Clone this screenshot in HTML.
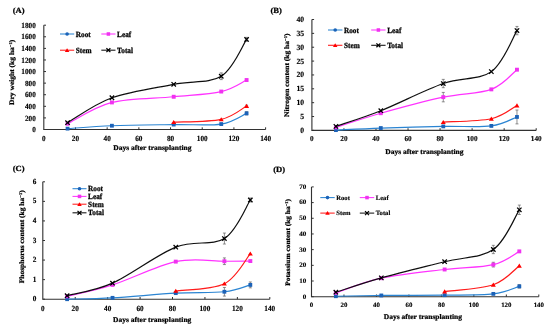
<!DOCTYPE html>
<html><head><meta charset="utf-8"><style>
html,body{margin:0;padding:0;background:#fff;}
body{width:550px;height:328px;overflow:hidden;}
svg{display:block;will-change:transform;font-family:"Liberation Serif", serif;font-weight:bold;fill:#000;}
text{text-rendering:geometricPrecision;stroke:#000;}

</style></head><body>
<svg width="550" height="328" viewBox="0 0 550 328">
<defs><filter id="bl" x="0" y="0" width="550" height="328" filterUnits="userSpaceOnUse"><feGaussianBlur stdDeviation="0.3"/></filter></defs>
<rect width="550" height="328" fill="#fff"/>
<g filter="url(#bl)">
<g><path d="M43.8,25.2 V129.5 H265.6" stroke="#303030" stroke-width="1.1" fill="none"/>
<path d="M43.8,129.5 h2.2" stroke="#303030" stroke-width="1"/>
<text transform="translate(35.8,129.5) scale(1.04,1.12) translate(0,2.36)" font-size="7" text-anchor="end" stroke-width="0.12">0</text>
<path d="M43.8,117.91 h2.2" stroke="#303030" stroke-width="1"/>
<text transform="translate(35.8,117.91) scale(1.04,1.12) translate(0,2.36)" font-size="7" text-anchor="end" stroke-width="0.12">200</text>
<path d="M43.8,106.32 h2.2" stroke="#303030" stroke-width="1"/>
<text transform="translate(35.8,106.32) scale(1.04,1.12) translate(0,2.36)" font-size="7" text-anchor="end" stroke-width="0.12">400</text>
<path d="M43.8,94.73 h2.2" stroke="#303030" stroke-width="1"/>
<text transform="translate(35.8,94.73) scale(1.04,1.12) translate(0,2.36)" font-size="7" text-anchor="end" stroke-width="0.12">600</text>
<path d="M43.8,83.14 h2.2" stroke="#303030" stroke-width="1"/>
<text transform="translate(35.8,83.14) scale(1.04,1.12) translate(0,2.36)" font-size="7" text-anchor="end" stroke-width="0.12">800</text>
<path d="M43.8,71.56 h2.2" stroke="#303030" stroke-width="1"/>
<text transform="translate(35.8,71.56) scale(1.04,1.12) translate(0,2.36)" font-size="7" text-anchor="end" stroke-width="0.12">1000</text>
<path d="M43.8,59.97 h2.2" stroke="#303030" stroke-width="1"/>
<text transform="translate(35.8,59.97) scale(1.04,1.12) translate(0,2.36)" font-size="7" text-anchor="end" stroke-width="0.12">1200</text>
<path d="M43.8,48.38 h2.2" stroke="#303030" stroke-width="1"/>
<text transform="translate(35.8,48.38) scale(1.04,1.12) translate(0,2.36)" font-size="7" text-anchor="end" stroke-width="0.12">1400</text>
<path d="M43.8,36.79 h2.2" stroke="#303030" stroke-width="1"/>
<text transform="translate(35.8,36.79) scale(1.04,1.12) translate(0,2.36)" font-size="7" text-anchor="end" stroke-width="0.12">1600</text>
<path d="M43.8,25.2 h2.2" stroke="#303030" stroke-width="1"/>
<text transform="translate(35.8,25.2) scale(1.04,1.12) translate(0,2.36)" font-size="7" text-anchor="end" stroke-width="0.12">1800</text>
<text transform="translate(43.8,138.4) scale(1.04,1.12) translate(0,2.36)" font-size="7" text-anchor="middle" stroke-width="0.12">0</text>
<path d="M75.49,129.5 v-2.2" stroke="#303030" stroke-width="1"/>
<text transform="translate(75.49,138.4) scale(1.04,1.12) translate(0,2.36)" font-size="7" text-anchor="middle" stroke-width="0.12">20</text>
<path d="M107.17,129.5 v-2.2" stroke="#303030" stroke-width="1"/>
<text transform="translate(107.17,138.4) scale(1.04,1.12) translate(0,2.36)" font-size="7" text-anchor="middle" stroke-width="0.12">40</text>
<path d="M138.86,129.5 v-2.2" stroke="#303030" stroke-width="1"/>
<text transform="translate(138.86,138.4) scale(1.04,1.12) translate(0,2.36)" font-size="7" text-anchor="middle" stroke-width="0.12">60</text>
<path d="M170.54,129.5 v-2.2" stroke="#303030" stroke-width="1"/>
<text transform="translate(170.54,138.4) scale(1.04,1.12) translate(0,2.36)" font-size="7" text-anchor="middle" stroke-width="0.12">80</text>
<path d="M202.23,129.5 v-2.2" stroke="#303030" stroke-width="1"/>
<text transform="translate(202.23,138.4) scale(1.04,1.12) translate(0,2.36)" font-size="7" text-anchor="middle" stroke-width="0.12">100</text>
<path d="M233.91,129.5 v-2.2" stroke="#303030" stroke-width="1"/>
<text transform="translate(233.91,138.4) scale(1.04,1.12) translate(0,2.36)" font-size="7" text-anchor="middle" stroke-width="0.12">120</text>
<path d="M265.6,129.5 v-2.2" stroke="#303030" stroke-width="1"/>
<text transform="translate(265.6,138.4) scale(1.04,1.12) translate(0,2.36)" font-size="7" text-anchor="middle" stroke-width="0.12">140</text>
<text transform="translate(152.4,147.2) scale(1,0.95) translate(0,2.53)" font-size="7.5" text-anchor="middle" stroke-width="0.26">Days after transplanting</text>
<text transform="translate(11.2,72.3) rotate(-90) scale(1,0.92) translate(0,2.53)" font-size="7.5" text-anchor="middle" stroke-width="0.26">Dry weight (kg ha<tspan font-size="4.65" dy="-2.2">−1</tspan><tspan dy="2.2">)</tspan></text>
<text transform="translate(12.7,10.7) scale(1,0.92) translate(0,2.9)" font-size="8.6" text-anchor="start" stroke-width="0.26">(A)</text>
<path d="M246.59,111.71 V114.96 M245.09,111.71 h3 M245.09,114.96 h3" stroke="#6a6a6a" stroke-width="0.75" fill="none"/>
<path d="M67.56,128.63 C74.96,128.15 94.23,126.41 111.92,125.73 C129.62,125.06 155.49,124.85 173.71,124.57 C191.93,124.29 209.09,125.93 221.24,124.05 C233.39,122.18 242.36,115.12 246.59,113.33" stroke="#2a84d2" stroke-width="1.2" fill="none"/>
<rect x="65.66" y="126.73" width="3.8" height="3.8" fill="#1a62b8"/>
<rect x="110.02" y="123.83" width="3.8" height="3.8" fill="#1a62b8"/>
<rect x="171.81" y="122.67" width="3.8" height="3.8" fill="#1a62b8"/>
<rect x="219.34" y="122.15" width="3.8" height="3.8" fill="#1a62b8"/>
<rect x="244.69" y="111.43" width="3.8" height="3.8" fill="#1a62b8"/>
<path d="M67.56,123.71 C74.96,120.16 94.23,106.93 111.92,102.44 C129.62,97.95 155.49,98.58 173.71,96.76 C191.93,94.95 209.09,94.34 221.24,91.55 C233.39,88.76 242.36,81.94 246.59,80.02" stroke="#ff33ff" stroke-width="1.2" fill="none"/>
<rect x="65.61" y="121.76" width="3.9" height="3.9" fill="#f030f0"/>
<rect x="109.97" y="100.49" width="3.9" height="3.9" fill="#f030f0"/>
<rect x="171.76" y="94.81" width="3.9" height="3.9" fill="#f030f0"/>
<rect x="219.29" y="89.6" width="3.9" height="3.9" fill="#f030f0"/>
<rect x="244.64" y="78.07" width="3.9" height="3.9" fill="#f030f0"/>
<path d="M246.59,105.16 V106.9 M245.09,105.16 h3 M245.09,106.9 h3" stroke="#6a6a6a" stroke-width="0.75" fill="none"/>
<path d="M173.71,122.2 C181.63,121.73 209.09,122.05 221.24,119.36 C233.39,116.67 242.36,108.25 246.59,106.03" stroke="#ff1a1a" stroke-width="1.2" fill="none"/>
<path d="M173.71,120 L176.21,124.07 L171.21,124.07 Z" fill="#ff0000"/>
<path d="M221.24,117.16 L223.74,121.23 L218.74,121.23 Z" fill="#ff0000"/>
<path d="M246.59,103.83 L249.09,107.9 L244.09,107.9 Z" fill="#ff0000"/>
<path d="M221.24,72.89 V79.61 M219.74,72.89 h3 M219.74,79.61 h3" stroke="#6a6a6a" stroke-width="0.75" fill="none"/>
<path d="M246.59,37.37 V41.42 M245.09,37.37 h3 M245.09,41.42 h3" stroke="#6a6a6a" stroke-width="0.75" fill="none"/>
<path d="M67.56,122.66 C74.96,118.51 94.23,104.14 111.92,97.75 C129.62,91.35 155.49,87.89 173.71,84.3 C191.93,80.72 209.09,83.73 221.24,76.25 C233.39,68.76 242.36,45.54 246.59,39.4" stroke="#111111" stroke-width="1.2" fill="none"/>
<path d="M65.36,120.46 L69.76,124.86 M69.76,120.46 L65.36,124.86" stroke="#000000" stroke-width="1.25" fill="none"/>
<path d="M109.72,95.55 L114.12,99.95 M114.12,95.55 L109.72,99.95" stroke="#000000" stroke-width="1.25" fill="none"/>
<path d="M171.51,82.1 L175.91,86.5 M175.91,82.1 L171.51,86.5" stroke="#000000" stroke-width="1.25" fill="none"/>
<path d="M219.04,74.05 L223.44,78.45 M223.44,74.05 L219.04,78.45" stroke="#000000" stroke-width="1.25" fill="none"/>
<path d="M244.39,37.2 L248.79,41.6 M248.79,37.2 L244.39,41.6" stroke="#000000" stroke-width="1.25" fill="none"/>
<path d="M60,34 h14.2" stroke="#2a84d2" stroke-width="1.05"/>
<circle cx="67.1" cy="34" r="1.8" fill="#1a62b8"/>
<text transform="translate(75.8,34) scale(0.92,1) translate(0,2.67)" font-size="7.9" text-anchor="start" stroke-width="0.26">Root</text>
<path d="M101.3,34 h14.2" stroke="#ff33ff" stroke-width="1.05"/>
<rect x="106.64" y="32.24" width="3.51" height="3.51" fill="#f030f0"/>
<text transform="translate(117.1,34) scale(0.92,1) translate(0,2.67)" font-size="7.9" text-anchor="start" stroke-width="0.26">Leaf</text>
<path d="M60,50.2 h14.2" stroke="#ff1a1a" stroke-width="1.05"/>
<path d="M67.1,48.22 L69.35,51.88 L64.85,51.88 Z" fill="#ff0000"/>
<text transform="translate(75.8,50.2) scale(0.92,1) translate(0,2.67)" font-size="7.9" text-anchor="start" stroke-width="0.26">Stem</text>
<path d="M101.3,50.2 h14.2" stroke="#111111" stroke-width="1.05"/>
<path d="M106.42,48.22 L110.38,52.18 M110.38,48.22 L106.42,52.18" stroke="#000000" stroke-width="1.25" fill="none"/>
<text transform="translate(117.1,50.2) scale(0.92,1) translate(0,2.67)" font-size="7.9" text-anchor="start" stroke-width="0.26">Total</text></g>
<g><path d="M311.9,19.5 V130.4 H536.2" stroke="#303030" stroke-width="1.1" fill="none"/>
<path d="M311.9,130.4 h2.2" stroke="#303030" stroke-width="1"/>
<text transform="translate(304.2,130.2) scale(1.04,1.08) translate(0,2.5)" font-size="7.4" text-anchor="end" stroke-width="0.12">0</text>
<path d="M311.9,116.54 h2.2" stroke="#303030" stroke-width="1"/>
<text transform="translate(304.2,116.34) scale(1.04,1.08) translate(0,2.5)" font-size="7.4" text-anchor="end" stroke-width="0.12">5</text>
<path d="M311.9,102.68 h2.2" stroke="#303030" stroke-width="1"/>
<text transform="translate(304.2,102.48) scale(1.04,1.08) translate(0,2.5)" font-size="7.4" text-anchor="end" stroke-width="0.12">10</text>
<path d="M311.9,88.81 h2.2" stroke="#303030" stroke-width="1"/>
<text transform="translate(304.2,88.61) scale(1.04,1.08) translate(0,2.5)" font-size="7.4" text-anchor="end" stroke-width="0.12">15</text>
<path d="M311.9,74.95 h2.2" stroke="#303030" stroke-width="1"/>
<text transform="translate(304.2,74.75) scale(1.04,1.08) translate(0,2.5)" font-size="7.4" text-anchor="end" stroke-width="0.12">20</text>
<path d="M311.9,61.09 h2.2" stroke="#303030" stroke-width="1"/>
<text transform="translate(304.2,60.89) scale(1.04,1.08) translate(0,2.5)" font-size="7.4" text-anchor="end" stroke-width="0.12">25</text>
<path d="M311.9,47.23 h2.2" stroke="#303030" stroke-width="1"/>
<text transform="translate(304.2,47.03) scale(1.04,1.08) translate(0,2.5)" font-size="7.4" text-anchor="end" stroke-width="0.12">30</text>
<path d="M311.9,33.36 h2.2" stroke="#303030" stroke-width="1"/>
<text transform="translate(304.2,33.16) scale(1.04,1.08) translate(0,2.5)" font-size="7.4" text-anchor="end" stroke-width="0.12">35</text>
<path d="M311.9,19.5 h2.2" stroke="#303030" stroke-width="1"/>
<text transform="translate(304.2,19.3) scale(1.04,1.08) translate(0,2.5)" font-size="7.4" text-anchor="end" stroke-width="0.12">40</text>
<text transform="translate(311.9,138.6) scale(1.04,1.08) translate(0,2.36)" font-size="7" text-anchor="middle" stroke-width="0.12">0</text>
<path d="M343.94,130.4 v-2.2" stroke="#303030" stroke-width="1"/>
<text transform="translate(343.94,138.6) scale(1.04,1.08) translate(0,2.36)" font-size="7" text-anchor="middle" stroke-width="0.12">20</text>
<path d="M375.99,130.4 v-2.2" stroke="#303030" stroke-width="1"/>
<text transform="translate(375.99,138.6) scale(1.04,1.08) translate(0,2.36)" font-size="7" text-anchor="middle" stroke-width="0.12">40</text>
<path d="M408.03,130.4 v-2.2" stroke="#303030" stroke-width="1"/>
<text transform="translate(408.03,138.6) scale(1.04,1.08) translate(0,2.36)" font-size="7" text-anchor="middle" stroke-width="0.12">60</text>
<path d="M440.07,130.4 v-2.2" stroke="#303030" stroke-width="1"/>
<text transform="translate(440.07,138.6) scale(1.04,1.08) translate(0,2.36)" font-size="7" text-anchor="middle" stroke-width="0.12">80</text>
<path d="M472.11,130.4 v-2.2" stroke="#303030" stroke-width="1"/>
<text transform="translate(472.11,138.6) scale(1.04,1.08) translate(0,2.36)" font-size="7" text-anchor="middle" stroke-width="0.12">100</text>
<path d="M504.16,130.4 v-2.2" stroke="#303030" stroke-width="1"/>
<text transform="translate(504.16,138.6) scale(1.04,1.08) translate(0,2.36)" font-size="7" text-anchor="middle" stroke-width="0.12">120</text>
<path d="M536.2,130.4 v-2.2" stroke="#303030" stroke-width="1"/>
<text transform="translate(536.2,138.6) scale(1.04,1.08) translate(0,2.36)" font-size="7" text-anchor="middle" stroke-width="0.12">140</text>
<text transform="translate(424.4,151.3) scale(1,0.95) translate(0,2.53)" font-size="7.5" text-anchor="middle" stroke-width="0.26">Days after transplanting</text>
<text transform="translate(286.9,75.2) rotate(-90) scale(1,0.92) translate(0,2.53)" font-size="7.5" text-anchor="middle" stroke-width="0.26">Nitrogen content (kg ha<tspan font-size="4.65" dy="-2.2">−1</tspan><tspan dy="2.2">)</tspan></text>
<text transform="translate(270.5,10.3) scale(1,0.92) translate(0,2.9)" font-size="8.6" text-anchor="start" stroke-width="0.26">(B)</text>
<path d="M516.97,110.02 V123.88 M515.47,110.02 h3 M515.47,123.88 h3" stroke="#6a6a6a" stroke-width="0.75" fill="none"/>
<path d="M335.93,130.12 C343.41,129.78 362.9,128.66 380.79,128.04 C398.68,127.42 424.85,126.76 443.28,126.41 C461.7,126.05 479.06,127.48 491.34,125.91 C503.62,124.33 512.7,118.45 516.97,116.95" stroke="#2a84d2" stroke-width="1.2" fill="none"/>
<rect x="334.03" y="128.22" width="3.8" height="3.8" fill="#1a62b8"/>
<rect x="378.89" y="126.14" width="3.8" height="3.8" fill="#1a62b8"/>
<rect x="441.38" y="124.51" width="3.8" height="3.8" fill="#1a62b8"/>
<rect x="489.44" y="124.01" width="3.8" height="3.8" fill="#1a62b8"/>
<rect x="515.07" y="115.05" width="3.8" height="3.8" fill="#1a62b8"/>
<path d="M443.28,92.42 V101.84 M441.78,92.42 h3 M441.78,101.84 h3" stroke="#6a6a6a" stroke-width="0.75" fill="none"/>
<path d="M335.93,127.35 C343.41,124.99 362.9,118.25 380.79,113.21 C398.68,108.17 424.85,101.1 443.28,97.13 C461.7,93.16 479.06,93.94 491.34,89.37 C503.62,84.79 512.7,72.96 516.97,69.68" stroke="#ff33ff" stroke-width="1.2" fill="none"/>
<rect x="333.98" y="125.4" width="3.9" height="3.9" fill="#f030f0"/>
<rect x="378.84" y="111.26" width="3.9" height="3.9" fill="#f030f0"/>
<rect x="441.33" y="95.18" width="3.9" height="3.9" fill="#f030f0"/>
<rect x="489.39" y="87.42" width="3.9" height="3.9" fill="#f030f0"/>
<rect x="515.02" y="67.73" width="3.9" height="3.9" fill="#f030f0"/>
<path d="M443.28,122.08 C451.29,121.53 479.06,121.51 491.34,118.76 C503.62,116 512.7,107.76 516.97,105.56" stroke="#ff1a1a" stroke-width="1.2" fill="none"/>
<path d="M443.28,119.88 L445.78,123.95 L440.78,123.95 Z" fill="#ff0000"/>
<path d="M491.34,116.56 L493.84,120.63 L488.84,120.63 Z" fill="#ff0000"/>
<path d="M516.97,103.36 L519.47,107.43 L514.47,107.43 Z" fill="#ff0000"/>
<path d="M443.28,79.39 V87.7 M441.78,79.39 h3 M441.78,87.7 h3" stroke="#6a6a6a" stroke-width="0.75" fill="none"/>
<path d="M516.97,26.43 V34.75 M515.47,26.43 h3 M515.47,34.75 h3" stroke="#6a6a6a" stroke-width="0.75" fill="none"/>
<path d="M335.93,126.38 C343.41,123.77 362.9,117.85 380.79,110.72 C398.68,103.58 424.85,90.06 443.28,83.54 C461.7,77.03 479.06,80.45 491.34,71.62 C503.62,62.8 512.7,37.43 516.97,30.59" stroke="#111111" stroke-width="1.2" fill="none"/>
<path d="M333.73,124.18 L338.13,128.58 M338.13,124.18 L333.73,128.58" stroke="#000000" stroke-width="1.25" fill="none"/>
<path d="M378.59,108.52 L382.99,112.92 M382.99,108.52 L378.59,112.92" stroke="#000000" stroke-width="1.25" fill="none"/>
<path d="M441.08,81.34 L445.48,85.74 M445.48,81.34 L441.08,85.74" stroke="#000000" stroke-width="1.25" fill="none"/>
<path d="M489.14,69.42 L493.54,73.82 M493.54,69.42 L489.14,73.82" stroke="#000000" stroke-width="1.25" fill="none"/>
<path d="M514.77,28.39 L519.17,32.79 M519.17,28.39 L514.77,32.79" stroke="#000000" stroke-width="1.25" fill="none"/>
<path d="M328,30 h14.4" stroke="#2a84d2" stroke-width="1.05"/>
<circle cx="335.2" cy="30" r="1.8" fill="#1a62b8"/>
<text transform="translate(344,30) scale(0.92,1) translate(0,2.67)" font-size="7.9" text-anchor="start" stroke-width="0.26">Root</text>
<path d="M371.2,30 h14.4" stroke="#ff33ff" stroke-width="1.05"/>
<rect x="376.64" y="28.25" width="3.51" height="3.51" fill="#f030f0"/>
<text transform="translate(387.2,30) scale(0.92,1) translate(0,2.67)" font-size="7.9" text-anchor="start" stroke-width="0.26">Leaf</text>
<path d="M328,45.3 h14.4" stroke="#ff1a1a" stroke-width="1.05"/>
<path d="M335.2,43.32 L337.45,46.98 L332.95,46.98 Z" fill="#ff0000"/>
<text transform="translate(344,45.3) scale(0.92,1) translate(0,2.67)" font-size="7.9" text-anchor="start" stroke-width="0.26">Stem</text>
<path d="M371.2,45.3 h14.4" stroke="#111111" stroke-width="1.05"/>
<path d="M376.42,43.32 L380.38,47.28 M380.38,43.32 L376.42,47.28" stroke="#000000" stroke-width="1.25" fill="none"/>
<text transform="translate(387.2,45.3) scale(0.92,1) translate(0,2.67)" font-size="7.9" text-anchor="start" stroke-width="0.26">Total</text></g>
<g><path d="M42.8,181.8 V299.2 H269.8" stroke="#303030" stroke-width="1.1" fill="none"/>
<path d="M42.8,299.2 h2.2" stroke="#303030" stroke-width="1"/>
<text transform="translate(36.4,298.6) scale(1.04,1.12) translate(0,2.36)" font-size="7" text-anchor="end" stroke-width="0.12">0</text>
<path d="M42.8,279.63 h2.2" stroke="#303030" stroke-width="1"/>
<text transform="translate(36.4,279.03) scale(1.04,1.12) translate(0,2.36)" font-size="7" text-anchor="end" stroke-width="0.12">1</text>
<path d="M42.8,260.07 h2.2" stroke="#303030" stroke-width="1"/>
<text transform="translate(36.4,259.47) scale(1.04,1.12) translate(0,2.36)" font-size="7" text-anchor="end" stroke-width="0.12">2</text>
<path d="M42.8,240.5 h2.2" stroke="#303030" stroke-width="1"/>
<text transform="translate(36.4,239.9) scale(1.04,1.12) translate(0,2.36)" font-size="7" text-anchor="end" stroke-width="0.12">3</text>
<path d="M42.8,220.93 h2.2" stroke="#303030" stroke-width="1"/>
<text transform="translate(36.4,220.33) scale(1.04,1.12) translate(0,2.36)" font-size="7" text-anchor="end" stroke-width="0.12">4</text>
<path d="M42.8,201.37 h2.2" stroke="#303030" stroke-width="1"/>
<text transform="translate(36.4,200.77) scale(1.04,1.12) translate(0,2.36)" font-size="7" text-anchor="end" stroke-width="0.12">5</text>
<path d="M42.8,181.8 h2.2" stroke="#303030" stroke-width="1"/>
<text transform="translate(36.4,181.2) scale(1.04,1.12) translate(0,2.36)" font-size="7" text-anchor="end" stroke-width="0.12">6</text>
<text transform="translate(42.8,308.2) scale(1.04,1.12) translate(0,2.36)" font-size="7" text-anchor="middle" stroke-width="0.12">0</text>
<path d="M75.23,299.2 v-2.2" stroke="#303030" stroke-width="1"/>
<text transform="translate(75.23,308.2) scale(1.04,1.12) translate(0,2.36)" font-size="7" text-anchor="middle" stroke-width="0.12">20</text>
<path d="M107.66,299.2 v-2.2" stroke="#303030" stroke-width="1"/>
<text transform="translate(107.66,308.2) scale(1.04,1.12) translate(0,2.36)" font-size="7" text-anchor="middle" stroke-width="0.12">40</text>
<path d="M140.09,299.2 v-2.2" stroke="#303030" stroke-width="1"/>
<text transform="translate(140.09,308.2) scale(1.04,1.12) translate(0,2.36)" font-size="7" text-anchor="middle" stroke-width="0.12">60</text>
<path d="M172.51,299.2 v-2.2" stroke="#303030" stroke-width="1"/>
<text transform="translate(172.51,308.2) scale(1.04,1.12) translate(0,2.36)" font-size="7" text-anchor="middle" stroke-width="0.12">80</text>
<path d="M204.94,299.2 v-2.2" stroke="#303030" stroke-width="1"/>
<text transform="translate(204.94,308.2) scale(1.04,1.12) translate(0,2.36)" font-size="7" text-anchor="middle" stroke-width="0.12">100</text>
<path d="M237.37,299.2 v-2.2" stroke="#303030" stroke-width="1"/>
<text transform="translate(237.37,308.2) scale(1.04,1.12) translate(0,2.36)" font-size="7" text-anchor="middle" stroke-width="0.12">120</text>
<path d="M269.8,299.2 v-2.2" stroke="#303030" stroke-width="1"/>
<text transform="translate(269.8,308.2) scale(1.04,1.12) translate(0,2.36)" font-size="7" text-anchor="middle" stroke-width="0.12">140</text>
<text transform="translate(152.2,319.8) scale(1,0.95) translate(0,2.53)" font-size="7.5" text-anchor="middle" stroke-width="0.26">Days after transplanting</text>
<text transform="translate(21.8,236.8) rotate(-90) scale(1,0.92) translate(0,2.53)" font-size="7.5" text-anchor="middle" stroke-width="0.26">Phosphorus content (kg ha<tspan font-size="4.65" dy="-2.2">−1</tspan><tspan dy="2.2">)</tspan></text>
<text transform="translate(12.7,168.6) scale(1,0.92) translate(0,2.9)" font-size="8.6" text-anchor="start" stroke-width="0.26">(C)</text>
<path d="M224.4,287.46 V296.07 M222.9,287.46 h3 M222.9,296.07 h3" stroke="#6a6a6a" stroke-width="0.75" fill="none"/>
<path d="M250.34,281.98 V287.85 M248.84,281.98 h3 M248.84,287.85 h3" stroke="#6a6a6a" stroke-width="0.75" fill="none"/>
<path d="M67.12,299.2 C74.69,298.97 94.42,298.84 112.52,297.83 C130.63,296.82 157.11,294.15 175.76,293.13 C194.4,292.12 211.97,293.13 224.4,291.76 C236.83,290.39 246.02,286.06 250.34,284.92" stroke="#2a84d2" stroke-width="1.2" fill="none"/>
<rect x="65.22" y="297.3" width="3.8" height="3.8" fill="#1a62b8"/>
<rect x="110.62" y="295.93" width="3.8" height="3.8" fill="#1a62b8"/>
<rect x="173.86" y="291.23" width="3.8" height="3.8" fill="#1a62b8"/>
<rect x="222.5" y="289.86" width="3.8" height="3.8" fill="#1a62b8"/>
<rect x="248.44" y="283.02" width="3.8" height="3.8" fill="#1a62b8"/>
<path d="M224.4,257.91 V264.57 M222.9,257.91 h3 M222.9,264.57 h3" stroke="#6a6a6a" stroke-width="0.75" fill="none"/>
<path d="M67.12,296.26 C74.69,294.37 94.42,290.69 112.52,284.92 C130.63,279.14 157.11,265.58 175.76,261.63 C194.4,257.69 211.97,261.34 224.4,261.24 C236.83,261.14 246.02,261.08 250.34,261.05" stroke="#ff33ff" stroke-width="1.2" fill="none"/>
<rect x="65.17" y="294.31" width="3.9" height="3.9" fill="#f030f0"/>
<rect x="110.57" y="282.97" width="3.9" height="3.9" fill="#f030f0"/>
<rect x="173.81" y="259.68" width="3.9" height="3.9" fill="#f030f0"/>
<rect x="222.45" y="259.29" width="3.9" height="3.9" fill="#f030f0"/>
<rect x="248.39" y="259.1" width="3.9" height="3.9" fill="#f030f0"/>
<path d="M175.76,290.98 C183.86,289.78 211.97,289.97 224.4,283.74 C236.83,277.51 246.02,258.63 250.34,253.61" stroke="#ff1a1a" stroke-width="1.2" fill="none"/>
<path d="M175.76,288.78 L178.26,292.85 L173.26,292.85 Z" fill="#ff0000"/>
<path d="M224.4,281.54 L226.9,285.61 L221.9,285.61 Z" fill="#ff0000"/>
<path d="M250.34,251.41 L252.84,255.48 L247.84,255.48 Z" fill="#ff0000"/>
<path d="M224.4,233.06 V244.02 M222.9,233.06 h3 M222.9,244.02 h3" stroke="#6a6a6a" stroke-width="0.75" fill="none"/>
<path d="M250.34,198.04 V201.95 M248.84,198.04 h3 M248.84,201.95 h3" stroke="#6a6a6a" stroke-width="0.75" fill="none"/>
<path d="M67.12,295.68 C74.69,293.59 94.42,291.24 112.52,283.16 C130.63,275.07 157.11,254.59 175.76,247.15 C194.4,239.72 211.97,246.4 224.4,238.54 C236.83,230.68 246.02,206.42 250.34,200" stroke="#111111" stroke-width="1.2" fill="none"/>
<path d="M64.92,293.48 L69.32,297.88 M69.32,293.48 L64.92,297.88" stroke="#000000" stroke-width="1.25" fill="none"/>
<path d="M110.32,280.96 L114.72,285.36 M114.72,280.96 L110.32,285.36" stroke="#000000" stroke-width="1.25" fill="none"/>
<path d="M173.56,244.95 L177.96,249.35 M177.96,244.95 L173.56,249.35" stroke="#000000" stroke-width="1.25" fill="none"/>
<path d="M222.2,236.34 L226.6,240.74 M226.6,236.34 L222.2,240.74" stroke="#000000" stroke-width="1.25" fill="none"/>
<path d="M248.14,197.8 L252.54,202.2 M252.54,197.8 L248.14,202.2" stroke="#000000" stroke-width="1.25" fill="none"/>
<path d="M72.5,188.7 h14" stroke="#2a84d2" stroke-width="1.05"/>
<circle cx="79.5" cy="188.7" r="1.8" fill="#1a62b8"/>
<text transform="translate(88.1,188.7) scale(0.92,1) translate(0,2.67)" font-size="7.9" text-anchor="start" stroke-width="0.26">Root</text>
<path d="M72.5,196.4 h14" stroke="#ff33ff" stroke-width="1.05"/>
<rect x="77.75" y="194.65" width="3.51" height="3.51" fill="#f030f0"/>
<text transform="translate(88.1,196.4) scale(0.92,1) translate(0,2.67)" font-size="7.9" text-anchor="start" stroke-width="0.26">Leaf</text>
<path d="M72.5,204.2 h14" stroke="#ff1a1a" stroke-width="1.05"/>
<path d="M79.5,202.22 L81.75,205.88 L77.25,205.88 Z" fill="#ff0000"/>
<text transform="translate(88.1,204.2) scale(0.92,1) translate(0,2.67)" font-size="7.9" text-anchor="start" stroke-width="0.26">Stem</text>
<path d="M72.5,212.8 h14" stroke="#111111" stroke-width="1.05"/>
<path d="M77.52,210.82 L81.48,214.78 M81.48,210.82 L77.52,214.78" stroke="#000000" stroke-width="1.25" fill="none"/>
<text transform="translate(88.1,212.8) scale(0.92,1) translate(0,2.67)" font-size="7.9" text-anchor="start" stroke-width="0.26">Total</text></g>
<g><path d="M311.5,186.9 V296.7 H538.8" stroke="#303030" stroke-width="1.1" fill="none"/>
<path d="M311.5,296.7 h2.2" stroke="#303030" stroke-width="1"/>
<text transform="translate(306.3,296.3) scale(1.04,1) translate(0,2.29)" font-size="6.8" text-anchor="end" stroke-width="0.12">0</text>
<path d="M311.5,281.01 h2.2" stroke="#303030" stroke-width="1"/>
<text transform="translate(306.3,280.61) scale(1.04,1) translate(0,2.29)" font-size="6.8" text-anchor="end" stroke-width="0.12">10</text>
<path d="M311.5,265.33 h2.2" stroke="#303030" stroke-width="1"/>
<text transform="translate(306.3,264.93) scale(1.04,1) translate(0,2.29)" font-size="6.8" text-anchor="end" stroke-width="0.12">20</text>
<path d="M311.5,249.64 h2.2" stroke="#303030" stroke-width="1"/>
<text transform="translate(306.3,249.24) scale(1.04,1) translate(0,2.29)" font-size="6.8" text-anchor="end" stroke-width="0.12">30</text>
<path d="M311.5,233.96 h2.2" stroke="#303030" stroke-width="1"/>
<text transform="translate(306.3,233.56) scale(1.04,1) translate(0,2.29)" font-size="6.8" text-anchor="end" stroke-width="0.12">40</text>
<path d="M311.5,218.27 h2.2" stroke="#303030" stroke-width="1"/>
<text transform="translate(306.3,217.87) scale(1.04,1) translate(0,2.29)" font-size="6.8" text-anchor="end" stroke-width="0.12">50</text>
<path d="M311.5,202.59 h2.2" stroke="#303030" stroke-width="1"/>
<text transform="translate(306.3,202.19) scale(1.04,1) translate(0,2.29)" font-size="6.8" text-anchor="end" stroke-width="0.12">60</text>
<path d="M311.5,186.9 h2.2" stroke="#303030" stroke-width="1"/>
<text transform="translate(306.3,186.5) scale(1.04,1) translate(0,2.29)" font-size="6.8" text-anchor="end" stroke-width="0.12">70</text>
<text transform="translate(311.5,305) scale(1.04,1) translate(0,2.23)" font-size="6.6" text-anchor="middle" stroke-width="0.12">0</text>
<path d="M343.97,296.7 v-2.2" stroke="#303030" stroke-width="1"/>
<text transform="translate(343.97,305) scale(1.04,1) translate(0,2.23)" font-size="6.6" text-anchor="middle" stroke-width="0.12">20</text>
<path d="M376.44,296.7 v-2.2" stroke="#303030" stroke-width="1"/>
<text transform="translate(376.44,305) scale(1.04,1) translate(0,2.23)" font-size="6.6" text-anchor="middle" stroke-width="0.12">40</text>
<path d="M408.91,296.7 v-2.2" stroke="#303030" stroke-width="1"/>
<text transform="translate(408.91,305) scale(1.04,1) translate(0,2.23)" font-size="6.6" text-anchor="middle" stroke-width="0.12">60</text>
<path d="M441.39,296.7 v-2.2" stroke="#303030" stroke-width="1"/>
<text transform="translate(441.39,305) scale(1.04,1) translate(0,2.23)" font-size="6.6" text-anchor="middle" stroke-width="0.12">80</text>
<path d="M473.86,296.7 v-2.2" stroke="#303030" stroke-width="1"/>
<text transform="translate(473.86,305) scale(1.04,1) translate(0,2.23)" font-size="6.6" text-anchor="middle" stroke-width="0.12">100</text>
<path d="M506.33,296.7 v-2.2" stroke="#303030" stroke-width="1"/>
<text transform="translate(506.33,305) scale(1.04,1) translate(0,2.23)" font-size="6.6" text-anchor="middle" stroke-width="0.12">120</text>
<path d="M538.8,296.7 v-2.2" stroke="#303030" stroke-width="1"/>
<text transform="translate(538.8,305) scale(1.04,1) translate(0,2.23)" font-size="6.6" text-anchor="middle" stroke-width="0.12">140</text>
<text transform="translate(422.9,316.3) scale(1,0.95) translate(0,2.53)" font-size="7.5" text-anchor="middle" stroke-width="0.26">Days after transplanting</text>
<text transform="translate(287.9,242.4) rotate(-90) scale(1,0.92) translate(0,2.5)" font-size="7.4" text-anchor="middle" stroke-width="0.26">Potassium content (kg ha<tspan font-size="4.59" dy="-2.2">−1</tspan><tspan dy="2.2">)</tspan></text>
<text transform="translate(273.2,169.3) scale(1,0.92) translate(0,2.9)" font-size="8.6" text-anchor="start" stroke-width="0.26">(D)</text>
<path d="M519.32,284.62 V288.07 M517.82,284.62 h3 M517.82,288.07 h3" stroke="#6a6a6a" stroke-width="0.75" fill="none"/>
<path d="M335.85,296.23 C343.43,296.1 363.18,295.63 381.31,295.45 C399.44,295.26 425.96,295.39 444.63,295.13 C463.3,294.87 480.89,295.34 493.34,293.88 C505.79,292.41 514.99,287.6 519.32,286.35" stroke="#2a84d2" stroke-width="1.2" fill="none"/>
<rect x="333.95" y="294.33" width="3.8" height="3.8" fill="#1a62b8"/>
<rect x="379.41" y="293.55" width="3.8" height="3.8" fill="#1a62b8"/>
<rect x="442.73" y="293.23" width="3.8" height="3.8" fill="#1a62b8"/>
<rect x="491.44" y="291.98" width="3.8" height="3.8" fill="#1a62b8"/>
<rect x="517.42" y="284.45" width="3.8" height="3.8" fill="#1a62b8"/>
<path d="M493.34,262.27 V266.98 M491.84,262.27 h3 M491.84,266.98 h3" stroke="#6a6a6a" stroke-width="0.75" fill="none"/>
<path d="M335.85,292.78 C343.43,290.35 363.18,282.07 381.31,278.19 C399.44,274.31 425.96,271.75 444.63,269.49 C463.3,267.22 480.89,267.64 493.34,264.62 C505.79,261.6 514.99,253.58 519.32,251.37" stroke="#ff33ff" stroke-width="1.2" fill="none"/>
<rect x="333.9" y="290.83" width="3.9" height="3.9" fill="#f030f0"/>
<rect x="379.36" y="276.24" width="3.9" height="3.9" fill="#f030f0"/>
<rect x="442.68" y="267.54" width="3.9" height="3.9" fill="#f030f0"/>
<rect x="491.39" y="262.67" width="3.9" height="3.9" fill="#f030f0"/>
<rect x="517.37" y="249.42" width="3.9" height="3.9" fill="#f030f0"/>
<path d="M444.63,291.52 C452.75,290.4 480.89,289.07 493.34,284.78 C505.79,280.49 514.99,268.96 519.32,265.8" stroke="#ff1a1a" stroke-width="1.2" fill="none"/>
<path d="M444.63,289.32 L447.13,293.39 L442.13,293.39 Z" fill="#ff0000"/>
<path d="M493.34,282.58 L495.84,286.65 L490.84,286.65 Z" fill="#ff0000"/>
<path d="M519.32,263.6 L521.82,267.67 L516.82,267.67 Z" fill="#ff0000"/>
<path d="M493.34,245.33 V253.64 M491.84,245.33 h3 M491.84,253.64 h3" stroke="#6a6a6a" stroke-width="0.75" fill="none"/>
<path d="M519.32,205.1 V214.51 M517.82,205.1 h3 M517.82,214.51 h3" stroke="#6a6a6a" stroke-width="0.75" fill="none"/>
<path d="M335.85,292.23 C343.43,289.84 363.18,282.96 381.31,277.88 C399.44,272.79 425.96,266.45 444.63,261.72 C463.3,256.99 480.89,258.14 493.34,249.49 C505.79,240.83 514.99,216.42 519.32,209.8" stroke="#111111" stroke-width="1.2" fill="none"/>
<path d="M333.65,290.03 L338.05,294.43 M338.05,290.03 L333.65,294.43" stroke="#000000" stroke-width="1.25" fill="none"/>
<path d="M379.11,275.68 L383.51,280.08 M383.51,275.68 L379.11,280.08" stroke="#000000" stroke-width="1.25" fill="none"/>
<path d="M442.43,259.52 L446.83,263.92 M446.83,259.52 L442.43,263.92" stroke="#000000" stroke-width="1.25" fill="none"/>
<path d="M491.14,247.29 L495.54,251.69 M495.54,247.29 L491.14,251.69" stroke="#000000" stroke-width="1.25" fill="none"/>
<path d="M517.12,207.6 L521.52,212 M521.52,207.6 L517.12,212" stroke="#000000" stroke-width="1.25" fill="none"/>
<path d="M320.3,197.6 h14.4" stroke="#2a84d2" stroke-width="1.05"/>
<circle cx="327.5" cy="197.6" r="1.8" fill="#1a62b8"/>
<text transform="translate(336.3,197.6) translate(0,2.23)" font-size="6.6" text-anchor="start" stroke-width="0.15">Root</text>
<path d="M359.8,197.6 h14.4" stroke="#ff33ff" stroke-width="1.05"/>
<rect x="365.25" y="195.84" width="3.51" height="3.51" fill="#f030f0"/>
<text transform="translate(375.8,197.6) translate(0,2.23)" font-size="6.6" text-anchor="start" stroke-width="0.15">Leaf</text>
<path d="M320.3,213.1 h14.4" stroke="#ff1a1a" stroke-width="1.05"/>
<path d="M327.5,211.12 L329.75,214.78 L325.25,214.78 Z" fill="#ff0000"/>
<text transform="translate(336.3,213.1) translate(0,2.23)" font-size="6.6" text-anchor="start" stroke-width="0.15">Stem</text>
<path d="M359.8,213.1 h14.4" stroke="#111111" stroke-width="1.05"/>
<path d="M365.02,211.12 L368.98,215.08 M368.98,211.12 L365.02,215.08" stroke="#000000" stroke-width="1.25" fill="none"/>
<text transform="translate(375.8,213.1) translate(0,2.23)" font-size="6.6" text-anchor="start" stroke-width="0.15">Total</text></g>
</g>
</svg></body></html>
